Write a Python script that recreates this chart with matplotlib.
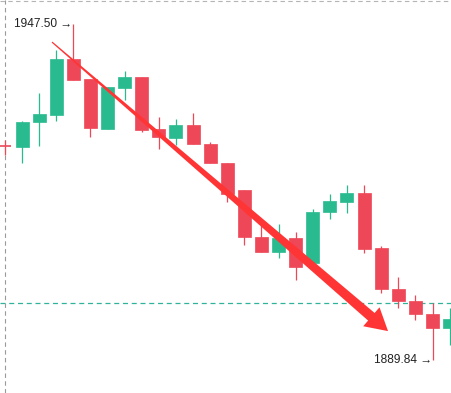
import matplotlib
matplotlib.use('Agg')
from matplotlib import pyplot as plt
from matplotlib.patches import Rectangle, Polygon
from matplotlib.transforms import IdentityTransform
import numpy as np

plt.rcParams['font.family'] = ['Liberation Sans', 'DejaVu Sans']

# OHLC
opens = [1926.56, 1926.39, 1930.68, 1931.88, 1941.49, 1938.06, 1929.48, 1936.52, 1938.40,
         1929.48, 1927.94, 1930.17, 1926.91, 1923.65, 1919.01, 1910.95, 1908.37, 1910.78,
         1906.49, 1915.24, 1916.95, 1918.50, 1909.06, 1902.02, 1899.96, 1897.73, 1895.33]
highs = [1927.59, 1930.85, 1935.66, 1943.04, 1947.50, 1938.06, 1936.69, 1939.43, 1938.40,
         1931.54, 1931.20, 1932.23, 1927.25, 1923.65, 1919.01, 1913.01, 1913.18, 1911.80,
         1915.75, 1918.33, 1919.87, 1919.87, 1909.40, 1904.08, 1900.99, 1899.62, 1898.76]
lows = [1925.02, 1923.65, 1926.56, 1930.85, 1937.89, 1928.11, 1929.48, 1934.46, 1928.97,
        1926.05, 1926.74, 1926.91, 1923.65, 1916.95, 1909.57, 1908.37, 1907.34, 1903.57,
        1906.49, 1914.04, 1915.07, 1908.20, 1901.34, 1898.76, 1896.70, 1889.84, 1892.41]
closes = [1926.56, 1930.68, 1932.06, 1941.49, 1937.89, 1929.65, 1936.69, 1938.40, 1929.31,
          1928.11, 1930.17, 1926.91, 1923.65, 1918.33, 1910.95, 1908.37, 1910.78, 1905.80,
          1915.24, 1917.12, 1918.50, 1908.89, 1902.02, 1899.96, 1897.73, 1895.33, 1896.87]

current_price = 1899.6
arrow_start = (2.75, 1944.4)
arrow_end = (22.4, 1894.8)

up_color = '#29bb8f'
down_color = '#ee4757'

fig = plt.figure(figsize=(4.52, 3.93), dpi=100)
ax = fig.add_axes([0, 0, 1, 1])
ax.set_xlim(-0.29, 26.14)
ax.set_ylim(1884.18, 1951.62)
ax.axis('off')

w = 0.76
for i, (o, h, l, c) in enumerate(zip(opens, highs, lows, closes)):
    col = up_color if c > o else down_color
    ax.vlines(i, l, h, color=col, linewidth=0.9, zorder=2)
    if o == c:
        ax.hlines(o, i - w / 2, i + w / 2, color=col, linewidth=1.2, zorder=3)
    else:
        ax.add_patch(Rectangle((i - w / 2, min(o, c)), w, abs(c - o),
                               facecolor=col, edgecolor=col, linewidth=0.5, zorder=3))

# crosshair / price lines
ax.axhline(current_price, color='#2fb39a', linestyle=(0, (4, 3)), linewidth=0.9, zorder=1)
ax.axvline(0, color='#9a9a9a', linestyle=(0, (4, 3)), linewidth=0.8, zorder=1)
ax.axhline(1951.4, color='#b5b5b5', linestyle=(0, (4, 3)), linewidth=0.8, zorder=1)

# high / low labels
hi_idx = int(np.argmax(highs))
lo_idx = int(np.argmin(lows))
ax.annotate('%.2f \u2192' % highs[hi_idx], (hi_idx, highs[hi_idx]), xytext=(-0.6, 0),
            textcoords='offset points', ha='right', va='center', fontsize=8.6, color='#222222')
ax.annotate('%.2f \u2192' % lows[lo_idx], (lo_idx, lows[lo_idx]), xytext=(-0.6, 0),
            textcoords='offset points', ha='right', va='center', fontsize=8.6, color='#222222')

# tapered trend arrow, built in pixel space
fig.canvas.draw()
p0 = ax.transData.transform(arrow_start)
p1 = ax.transData.transform(arrow_end)
d = p1 - p0
u = d / np.hypot(*d)
n = np.array([-u[1], u[0]])
head_len, head_half = 22, 12.5
tail_half, neck_half = 0.6, 5.0
base = p1 - u * head_len
pts = [p0 + n * tail_half, base + n * neck_half, base + n * head_half, p1,
       base - n * head_half, base - n * neck_half, p0 - n * tail_half]
ax.add_patch(Polygon(pts, closed=True, facecolor='#ff3535', edgecolor='none',
                     transform=IdentityTransform(), zorder=5))

fig.savefig('out.png', dpi=100)
